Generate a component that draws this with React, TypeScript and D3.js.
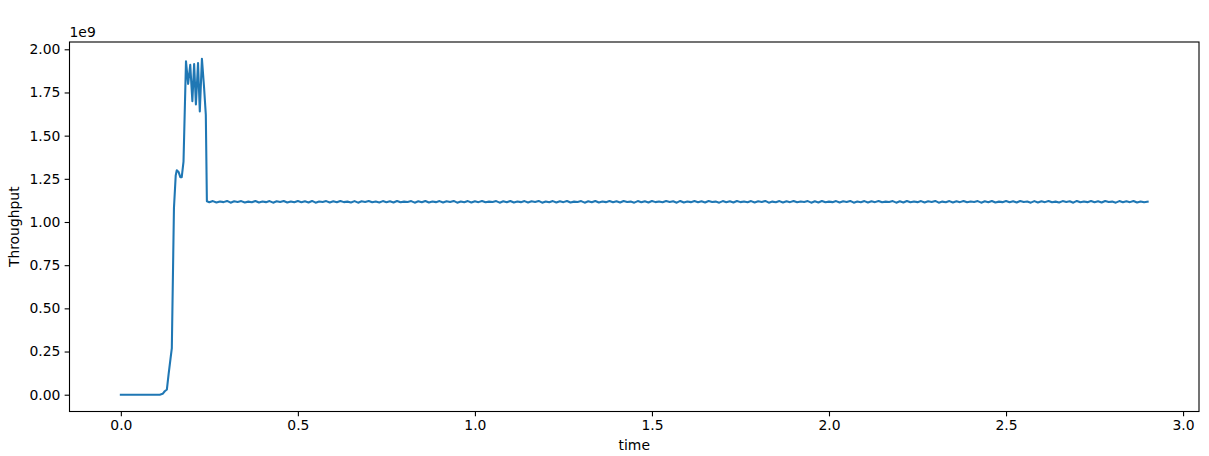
import React, { useEffect, useRef } from 'react';
import * as d3 from 'd3';

// throughput in units of 1e9, start-up phase (irregular samples)
const rampTimes = [
  0, 0.11, 0.118, 0.124, 0.13, 0.135, 0.141, 0.144, 0.15, 0.155, 0.158, 0.163,
  0.168, 0.172, 0.177, 0.184, 0.19, 0.196, 0.202, 0.207, 0.212, 0.218, 0.223,
  0.229, 0.235, 0.24, 0.243,
];
const rampValues = [
  0, 0, 0.005, 0.02, 0.03, 0.12, 0.22, 0.27, 1.08, 1.27, 1.3, 1.29,
  1.26, 1.26, 1.35, 1.93, 1.8, 1.91, 1.7, 1.915, 1.68, 1.92, 1.64,
  1.945, 1.78, 1.62, 1.12,
];

// steady phase, sampled every 0.01 from 0.25
const steadyStart = 0.25;
const steadyStep = 0.01;
const steadyValues = [
  1.114, 1.121, 1.113, 1.119, 1.115, 1.122, 1.112, 1.120, 1.116, 1.121,
  1.113, 1.118, 1.114, 1.122, 1.113, 1.119, 1.115, 1.121, 1.112, 1.120,
  1.116, 1.122, 1.113, 1.119, 1.114, 1.121, 1.115, 1.120, 1.113, 1.122,
  1.112, 1.119, 1.116, 1.121, 1.113, 1.120, 1.114, 1.122, 1.115, 1.118,
  1.113, 1.121, 1.112, 1.120, 1.116, 1.122, 1.114, 1.119, 1.113, 1.121,
  1.115, 1.120, 1.113, 1.122, 1.114, 1.118, 1.116, 1.121, 1.112, 1.120,
  1.114, 1.122, 1.113, 1.119, 1.115, 1.121, 1.113, 1.120, 1.116, 1.122,
  1.112, 1.119, 1.114, 1.121, 1.113, 1.120, 1.115, 1.122, 1.114, 1.118,
  1.116, 1.121, 1.112, 1.120, 1.114, 1.122, 1.113, 1.119, 1.115, 1.121,
  1.113, 1.120, 1.116, 1.122, 1.112, 1.119, 1.114, 1.121, 1.113, 1.120,
  1.115, 1.122, 1.113, 1.118, 1.116, 1.121, 1.112, 1.120, 1.114, 1.122,
  1.113, 1.119, 1.115, 1.121, 1.114, 1.120, 1.113, 1.122, 1.116, 1.118,
  1.112, 1.121, 1.114, 1.120, 1.113, 1.122, 1.115, 1.119, 1.114, 1.121,
  1.116, 1.120, 1.112, 1.122, 1.113, 1.119, 1.115, 1.121, 1.114, 1.120,
  1.113, 1.122, 1.116, 1.118, 1.112, 1.121, 1.114, 1.120, 1.113, 1.122,
  1.115, 1.119, 1.114, 1.121, 1.113, 1.120, 1.116, 1.122, 1.112, 1.118,
  1.114, 1.121, 1.113, 1.120, 1.115, 1.122, 1.114, 1.119, 1.116, 1.121,
  1.112, 1.120, 1.113, 1.122, 1.114, 1.118, 1.115, 1.121, 1.113, 1.120,
  1.116, 1.122, 1.112, 1.119, 1.114, 1.121, 1.113, 1.120, 1.115, 1.122,
  1.114, 1.118, 1.116, 1.121, 1.112, 1.120, 1.113, 1.122, 1.114, 1.119,
  1.115, 1.121, 1.113, 1.120, 1.116, 1.122, 1.112, 1.118, 1.114, 1.121,
  1.113, 1.120, 1.115, 1.122, 1.114, 1.119, 1.116, 1.121, 1.112, 1.120,
  1.114, 1.122, 1.113, 1.118, 1.115, 1.121, 1.114, 1.120, 1.113, 1.122,
  1.116, 1.119, 1.112, 1.121, 1.113, 1.120, 1.115, 1.122, 1.114, 1.118,
  1.113, 1.121, 1.116, 1.120, 1.112, 1.122, 1.114, 1.119, 1.115, 1.121,
  1.114, 1.120, 1.113, 1.122, 1.116, 1.118, 1.112, 1.121, 1.114, 1.120,
  1.115, 1.122, 1.113, 1.119, 1.114, 1.118,
];

const xTicks = [0, 0.5, 1, 1.5, 2, 2.5, 3];
const yTicks = [0, 0.25, 0.5, 0.75, 1, 1.25, 1.5, 1.75, 2];

const App: React.FC = () => {
  const width = 1209;
  const height = 456;
  const svgRef = useRef<SVGSVGElement>(null);

  useEffect(() => {
    if (!svgRef.current) return;
    const svg = d3.select(svgRef.current);
    svg.selectAll('*').remove();

    const left = 69.5, right = 1199, top = 42, bottom = 411.5;
    const font = 'DejaVu Sans, sans-serif';
    const fs = 13.9;

    const data: [number, number][] = rampTimes.map((t, i) => [t, rampValues[i]]);
    steadyValues.forEach((v, i) => data.push([steadyStart + i * steadyStep, v]));

    const x = d3.scaleLinear().domain([-0.145, 3.045]).range([left, right]);
    const y = d3.scaleLinear().domain([-0.09725, 2.04225]).range([bottom, top]);

    svg.append('path')
      .datum(data)
      .attr('fill', 'none')
      .attr('stroke', '#1f77b4')
      .attr('stroke-width', 2.08)
      .attr('stroke-linejoin', 'round')
      .attr('stroke-linecap', 'square')
      .attr('d', d3.line<[number, number]>().x(d => x(d[0])).y(d => y(d[1])));

    const xAxis = svg.append('g')
      .attr('transform', `translate(0, ${bottom})`)
      .call(d3.axisBottom(x).tickValues(xTicks).tickSize(4.86).tickPadding(4.2).tickFormat(d => (+d).toFixed(1)));
    const yAxis = svg.append('g')
      .attr('transform', `translate(${left}, 0)`)
      .call(d3.axisLeft(y).tickValues(yTicks).tickSize(4.86).tickPadding(4.2).tickFormat(d => (+d).toFixed(2)));

    [xAxis, yAxis].forEach(g => {
      g.select('.domain').remove();
      g.selectAll('line').attr('stroke', '#000').attr('stroke-width', 1.1);
      g.selectAll('text').attr('fill', '#000').attr('font-family', font).attr('font-size', fs);
    });

    svg.append('rect')
      .attr('x', left).attr('y', top)
      .attr('width', right - left).attr('height', bottom - top)
      .attr('fill', 'none').attr('stroke', '#000').attr('stroke-width', 1.1);

    svg.append('text')
      .attr('x', (left + right) / 2).attr('y', 450)
      .attr('text-anchor', 'middle')
      .attr('font-family', font).attr('font-size', fs)
      .text('time');

    svg.append('text')
      .attr('transform', `translate(19, ${(top + bottom) / 2}) rotate(-90)`)
      .attr('text-anchor', 'middle')
      .attr('font-family', font).attr('font-size', fs)
      .text('Throughput');

    svg.append('text')
      .attr('x', left).attr('y', 37)
      .attr('font-family', font).attr('font-size', fs)
      .text('1e9');
  }, []);

  return (
    <div style={{ position: 'absolute', left: 0, top: 0 }}>
      <svg ref={svgRef} width={width} height={height} style={{ display: 'block', background: '#fff' }}></svg>
    </div>
  );
};

export default App;
